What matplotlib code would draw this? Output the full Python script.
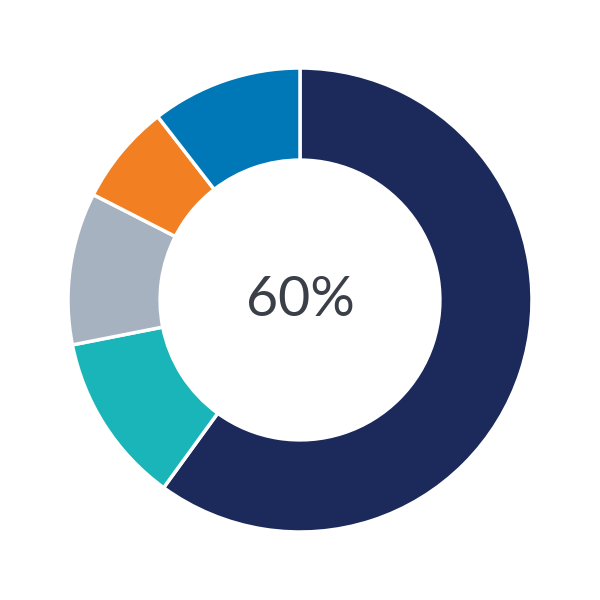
import matplotlib
matplotlib.use("Agg")
import matplotlib.pyplot as plt

# slices, clockwise from 12 o'clock
shares = [60, 11.9, 10.6, 7.0, 10.5]
colors = ['#1b2a5a', '#1ab5b8', '#a7b2c1', '#f27f22', '#0077b6']
center_label = '60%'

fig = plt.figure(figsize=(6, 6), dpi=100)
ax = fig.add_axes([0, 0, 1, 1])

ax.pie(shares, colors=colors, startangle=90, counterclock=False,
       radius=1.0, wedgeprops=dict(width=0.397, edgecolor='white', linewidth=2.5))

ax.text(0, 0, center_label, ha='center', va='center', fontsize=40,
        family=['Lato', 'DejaVu Sans'], color='#3a3f48')

lim = 300 / 232
ax.set_xlim(-lim, lim)
ax.set_ylim(-lim, lim)
ax.set_aspect('equal')
ax.axis('off')

fig.savefig('out.png', dpi=100, facecolor='white')
